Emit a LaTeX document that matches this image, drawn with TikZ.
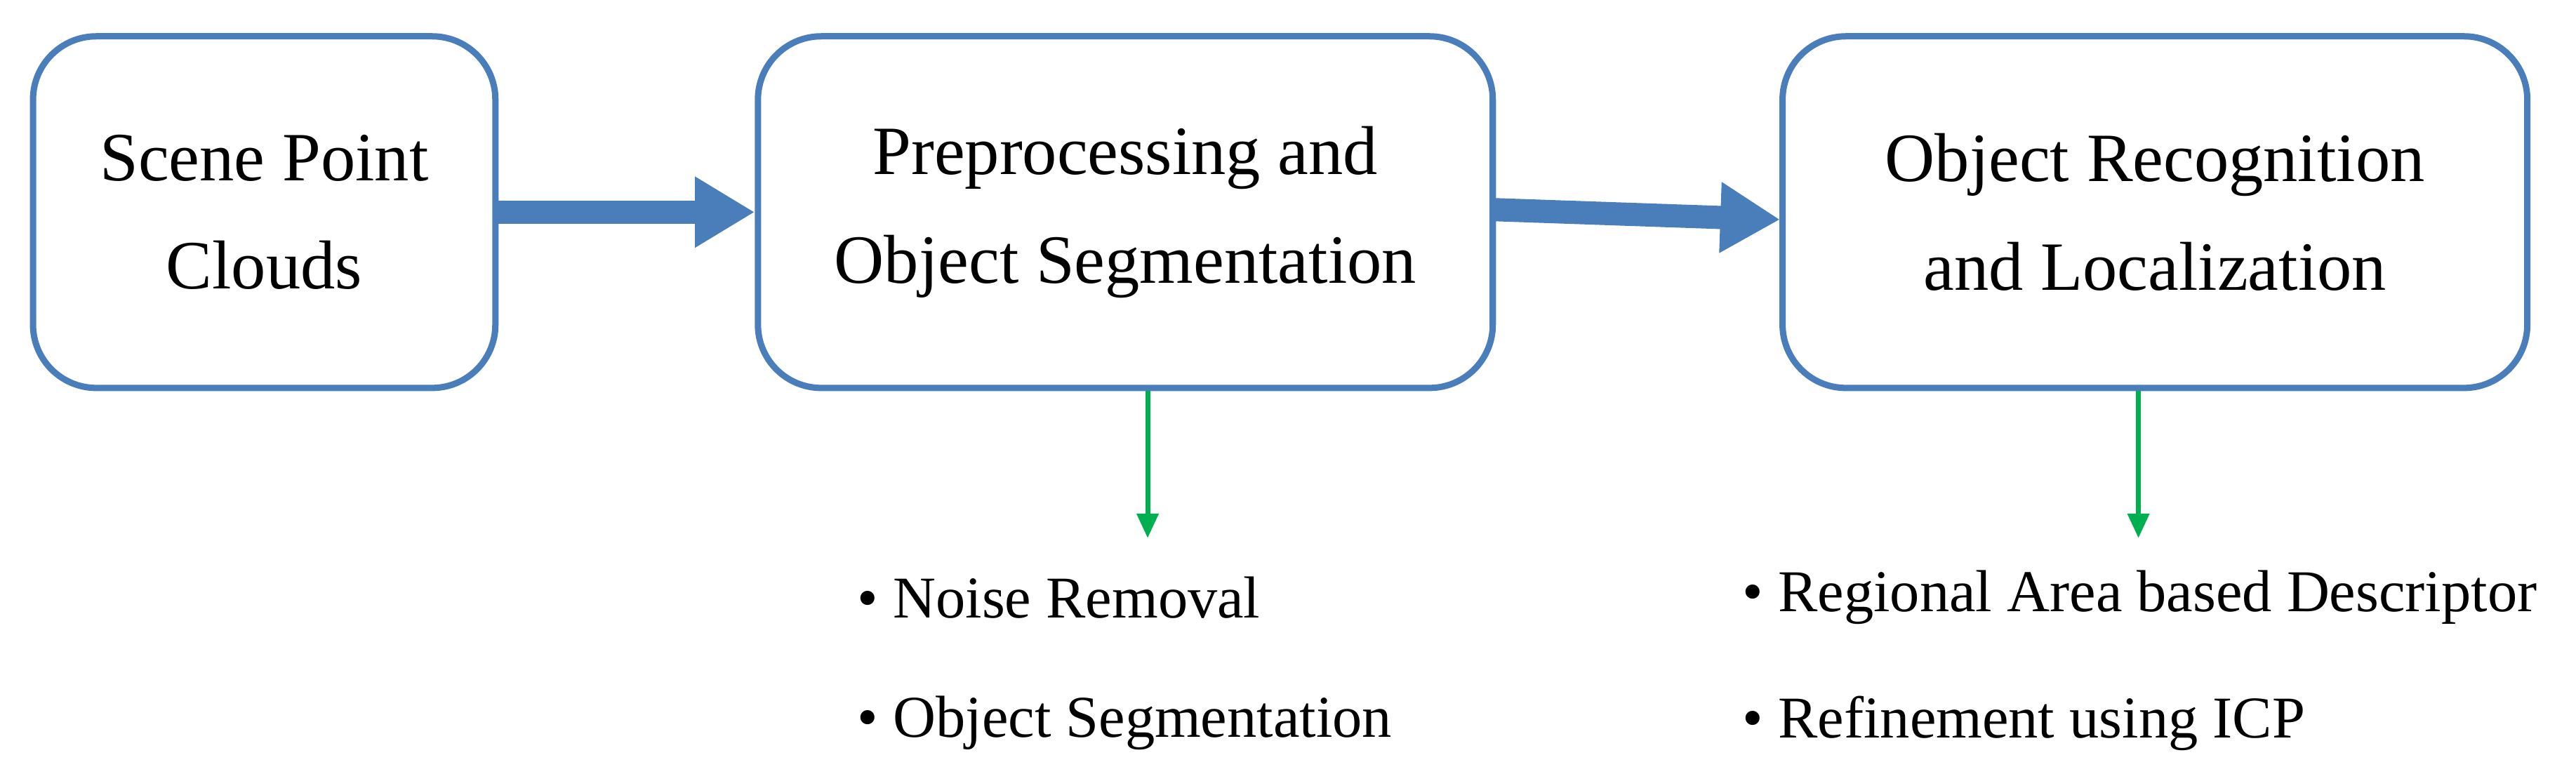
\documentclass[tikz,border=0pt]{standalone}
\usepackage{fontspec}
\setmainfont{Liberation Serif}
\usetikzlibrary{arrows.meta}
\definecolor{bl}{HTML}{4A7EBB}
\definecolor{gr}{HTML}{00B050}
\begin{document}
\begin{tikzpicture}[x=0.0235cm,y=-0.0235cm,
  box/.style={draw=bl,line width=0.09cm,rounded corners=0.9cm,align=center,font=\fontsize{28}{44}\selectfont,inner sep=0},
  big/.style={bl,line width=0.33cm,-{Triangle[width=0.95cm,length=0.85cm]}},
  small/.style={gr,line width=0.07cm,-{Triangle[width=0.3cm,length=0.35cm]}},
  item/.style={anchor=west,font=\fontsize{24}{28}\selectfont,inner sep=0}]
\useasboundingbox (0,0) rectangle (1560,473);
\node[box,minimum width=280*0.0235cm,minimum height=213*0.0235cm] (a) at (160,128.5) {Scene Point\\Clouds};
\node[box,minimum width=445*0.0235cm,minimum height=213*0.0235cm] (b) at (681.5,128.5) {Preprocessing and\\Object Segmentation};
\node[box,minimum width=451*0.0235cm,minimum height=213*0.0235cm] (c) at (1305,128.5) {Object Recognition\\and Localization};
\draw[big] (a.east) -- (b.west);
\coordinate (s2) at (905,127); \coordinate (e2) at (1078,133);
\draw[big] (s2) -- (e2);
\coordinate (g1) at (695,326); \coordinate (g2) at (1295,326);
\draw[small] (b.south -| g1) -- (g1);
\draw[small] (c.south -| g2) -- (g2);
\node[item] (n1) at (519,362) {• Noise Removal};
\node[item] (n2) at (519,438) {• Object Segmentation};
\node[item] (n3) at (1055,362) {• Regional Area based Descriptor};
\node[item] (n4) at (1055,438) {• Refinement using ICP};
\end{tikzpicture}
\end{document}
